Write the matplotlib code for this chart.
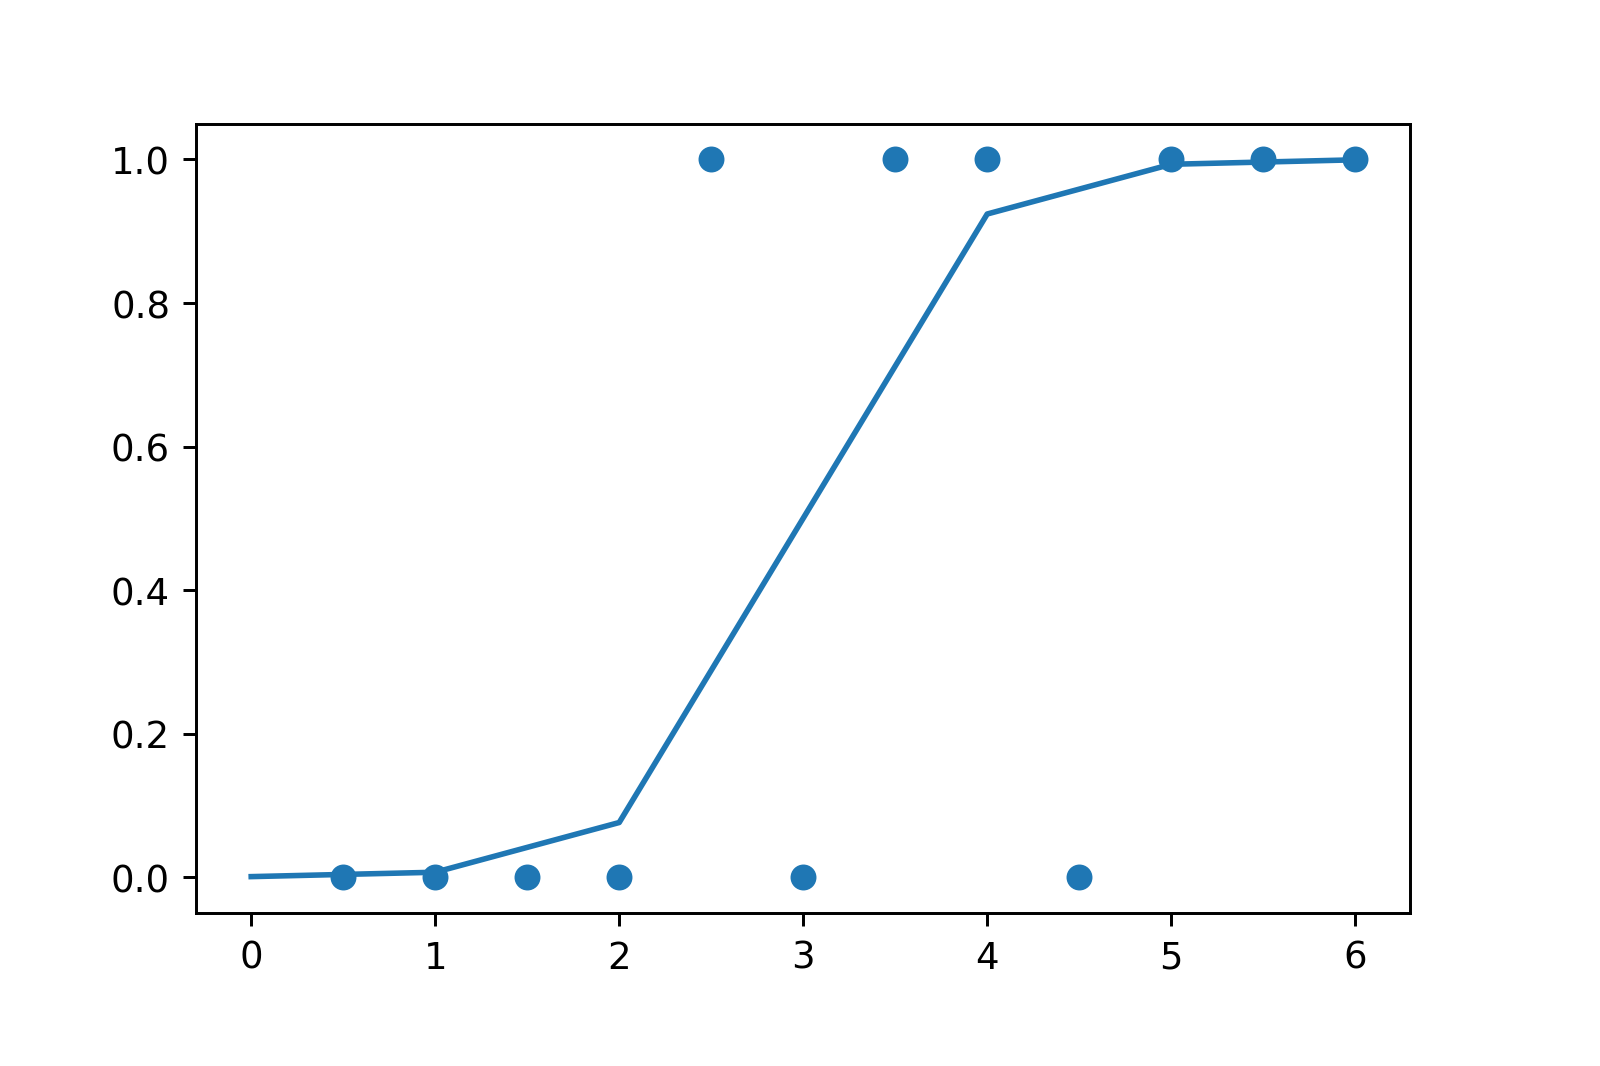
import matplotlib
matplotlib.use("Agg")
import matplotlib.pyplot as plt

# fitted curve (logistic) at integer x
line_x = [0, 1, 2, 3, 4, 5, 6]
line_y = [0.0006, 0.0067, 0.076, 0.5, 0.924, 0.9933, 0.9995]

# observed points
pts_x = [0.5, 1.0, 1.5, 2.0, 2.5, 3.0, 3.5, 4.0, 4.5, 5.0, 5.5, 6.0]
pts_y = [0, 0, 0, 0, 1, 0, 1, 1, 0, 1, 1, 1]

fig = plt.figure(figsize=(6, 4), dpi=266.67)
ax = fig.add_axes([0.1225, 0.1435, 0.759, 0.74])
ax.scatter(pts_x, pts_y)
ax.plot(line_x, line_y)
fig.savefig("out.png", dpi=266.67)
